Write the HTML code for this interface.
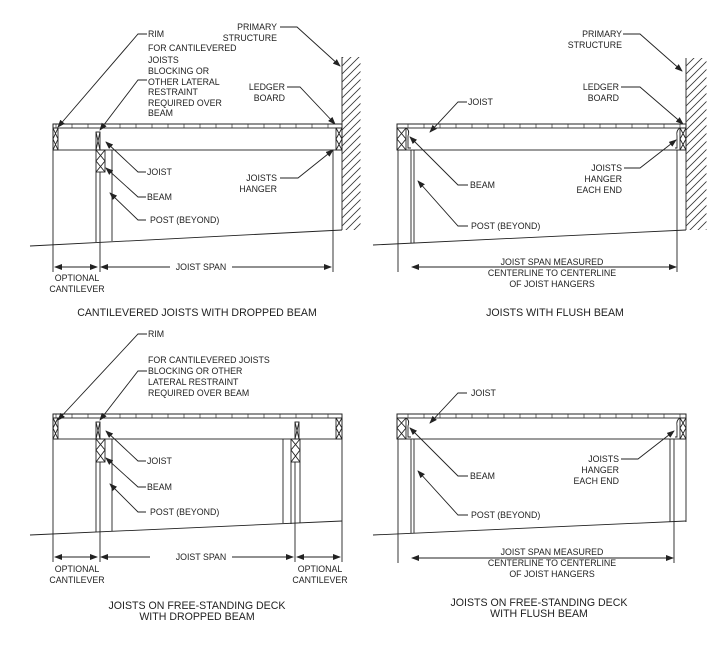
<!DOCTYPE html>
<html><head><meta charset="utf-8"><style>
html,body{margin:0;padding:0;background:#fff}
svg{display:block}
text{font-family:"Liberation Sans",Arial,sans-serif;font-size:8.8px;fill:#222}
.t{font-size:10.6px}
</style></head><body>
<svg width="707" height="645" viewBox="0 0 707 645" xmlns="http://www.w3.org/2000/svg">
<defs>
<pattern id="tick" x="0" y="0" width="16" height="4" patternUnits="userSpaceOnUse"><line x1="8" y1="0" x2="8" y2="4" stroke="#333" stroke-width="0.7"/></pattern>
<pattern id="hatch" width="8" height="8" patternUnits="userSpaceOnUse"><line x1="0" y1="8" x2="8" y2="0" stroke="#333" stroke-width="0.8"/><line x1="-2" y1="2" x2="2" y2="-2" stroke="#333" stroke-width="0.8"/><line x1="6" y1="10" x2="10" y2="6" stroke="#333" stroke-width="0.8"/></pattern>
<marker id="a" markerWidth="8" markerHeight="6" refX="7" refY="3" orient="auto" markerUnits="userSpaceOnUse"><path d="M0,0 L8,3 L0,6 z" fill="#222"/></marker>
</defs>
<g stroke="#222" stroke-width="0.9" fill="none">
<!-- PANEL 1 -->
<rect x="53" y="124" width="289" height="4" fill="url(#tick)"/>
<rect x="53" y="124" width="289" height="26"/>
<rect x="53" y="128" width="5" height="22"/><path d="M53,128 L58,139 L53,150 M58,128 L53,139 L58,150"/>
<rect x="96" y="132" width="4" height="18"/><path d="M96,132 L100,150 M100,132 L96,150"/>
<rect x="96" y="150" width="9" height="22"/><path d="M96,150 L105,161 L96,172 M105,150 L96,161 L105,172"/>
<rect x="336" y="128" width="6" height="22"/><path d="M336,128 L342,139 L336,150 M342,128 L336,139 L342,150"/>
<path d="M96,172 V242 M100,172 V272 M112,150 V241 M53,150 V272 M333,150 V272"/>
<path d="M30,246 L342,230"/>
<path d="M342,57 V230"/>
<rect x="342.5" y="57" width="18" height="173" fill="url(#hatch)" stroke="none"/>
<path d="M55,267 H97" marker-end="url(#a)"/><path d="M97,267 H55" marker-end="url(#a)"/>
<path d="M101,267 H170 M232,267 H331" /><path d="M150,267 H101" marker-end="url(#a)"/><path d="M300,267 H331" marker-end="url(#a)"/>
<path d="M147,34 H138 L58,127" marker-end="url(#a)"/>
<path d="M147,80 H138 L100,130" marker-end="url(#a)"/>
<path d="M280,27 H297 L340,66" marker-end="url(#a)"/>
<path d="M287,87 H300 L335,124" marker-end="url(#a)"/>
<path d="M280,178 H298 L333,150" marker-end="url(#a)"/>
<path d="M146,172 H138 L106,142" marker-end="url(#a)"/>
<path d="M146,197 H138 L106,168" marker-end="url(#a)"/>
<path d="M146,220 H138 L110,193" marker-end="url(#a)"/>

<!-- PANEL 2 -->
<rect x="397" y="124" width="289" height="4" fill="url(#tick)"/>
<rect x="397" y="124" width="289" height="26"/>
<rect x="397" y="128" width="9" height="22"/><path d="M397,128 L406,139 L397,150 M406,128 L397,139 L406,150"/>
<path d="M406,128 Q410,130 408,136 L408,148 H411"/>
<rect x="680" y="128" width="6" height="22"/><path d="M680,128 L686,139 L680,150 M686,128 L680,139 L686,150"/>
<path d="M680,128 Q676,130 677,136 L677,148 H675"/>
<path d="M398,150 V272 M411,150 V243 M414,150 V243 M677,150 V272"/>
<path d="M373,245 L686,230"/>
<path d="M686,58 V230"/>
<rect x="686.5" y="58" width="20" height="172" fill="url(#hatch)" stroke="none"/>
<path d="M530,267 H412" marker-end="url(#a)"/><path d="M520,267 H676" marker-end="url(#a)"/>
<path d="M467,102 H458 L430,132" marker-end="url(#a)"/>
<path d="M468,185 H458 L410,137" marker-end="url(#a)"/>
<path d="M468,226 H458 L418,181" marker-end="url(#a)"/>
<path d="M623,34 H640 L682,71" marker-end="url(#a)"/>
<path d="M621,87 H640 L683,124" marker-end="url(#a)"/>
<path d="M624,168 H640 L676,140" marker-end="url(#a)"/>

<!-- PANEL 3 -->
<rect x="53" y="414" width="289" height="4" fill="url(#tick)"/>
<rect x="53" y="414" width="289" height="25"/>
<rect x="53" y="418" width="5" height="21"/><path d="M53,418 L58,428 L53,439 M58,418 L53,428 L58,439"/>
<rect x="336" y="418" width="6" height="21"/><path d="M336,418 L342,428 L336,439 M342,418 L336,428 L342,439"/>
<rect x="96" y="422" width="4" height="17"/><path d="M96,422 L100,439 M100,422 L96,439"/>
<rect x="96" y="439" width="9" height="23"/><path d="M96,439 L105,450 L96,462 M105,439 L96,450 L105,462"/>
<rect x="295" y="422" width="4" height="17"/><path d="M295,422 L299,439 M299,422 L295,439"/>
<rect x="291" y="439" width="9" height="23"/><path d="M291,439 L300,450 L291,462 M300,439 L291,450 L300,462"/>
<path d="M96,462 V532 M100,462 V562 M112,439 V531 M283,439 V523 M291,462 V524 M295,462 V562 M300,462 V523 M53,439 V562 M342,439 V562"/>
<path d="M30,535 L342,521"/>
<path d="M55,557 H97" marker-end="url(#a)"/><path d="M97,557 H55" marker-end="url(#a)"/>
<path d="M150,557 H101" marker-end="url(#a)"/><path d="M232,557 H293" marker-end="url(#a)"/>
<path d="M298,557 H340" marker-end="url(#a)"/><path d="M340,557 H297" marker-end="url(#a)"/>
<path d="M147,334 H138 L58,420" marker-end="url(#a)"/>
<path d="M147,371 H138 L100,420" marker-end="url(#a)"/>
<path d="M146,461 H138 L106,431" marker-end="url(#a)"/>
<path d="M146,487 H138 L106,458" marker-end="url(#a)"/>
<path d="M146,512 H138 L110,484" marker-end="url(#a)"/>

<!-- PANEL 4 -->
<rect x="397" y="414" width="289" height="4" fill="url(#tick)"/>
<rect x="397" y="414" width="289" height="25"/>
<rect x="397" y="418" width="9" height="21"/><path d="M397,418 L406,428 L397,439 M406,418 L397,428 L406,439"/>
<path d="M406,418 Q410,420 408,426 L408,437 H411"/>
<rect x="680" y="418" width="6" height="21"/><path d="M680,418 L686,428 L680,439 M686,418 L680,428 L686,439"/>
<path d="M680,418 Q676,420 677,426 L677,437 H675"/>
<path d="M398,439 V563 M411,439 V533 M414,439 V533 M670,439 V522 M674,439 V563 M686,439 V522"/>
<path d="M373,535 L686,521"/>
<path d="M530,558 H412" marker-end="url(#a)"/><path d="M520,558 H673" marker-end="url(#a)"/>
<path d="M467,393 H458 L430,423" marker-end="url(#a)"/>
<path d="M468,476 H458 L410,428" marker-end="url(#a)"/>
<path d="M468,515 H458 L418,471" marker-end="url(#a)"/>
<path d="M621,459 H638 L674,431" marker-end="url(#a)"/>
</g>

<g>
<text x="148" y="37">RIM</text>
<text x="148" y="51">FOR CANTILEVERED</text>
<text x="148" y="63">JOISTS</text>
<text x="148" y="74">BLOCKING OR</text>
<text x="148" y="85">OTHER LATERAL</text>
<text x="148" y="95">RESTRAINT</text>
<text x="148" y="106">REQUIRED OVER</text>
<text x="148" y="116">BEAM</text>
<text x="277" y="30" text-anchor="end">PRIMARY</text>
<text x="277" y="41" text-anchor="end">STRUCTURE</text>
<text x="285" y="90" text-anchor="end">LEDGER</text>
<text x="285" y="101" text-anchor="end">BOARD</text>
<text x="277" y="181" text-anchor="end">JOISTS</text>
<text x="277" y="192" text-anchor="end">HANGER</text>
<text x="147" y="175">JOIST</text>
<text x="147" y="200">BEAM</text>
<text x="150" y="223">POST (BEYOND)</text>
<text x="201" y="270" text-anchor="middle">JOIST SPAN</text>
<text x="77" y="281" text-anchor="middle">OPTIONAL</text>
<text x="77" y="292" text-anchor="middle">CANTILEVER</text>
<text class="t" x="197" y="316" text-anchor="middle">CANTILEVERED JOISTS WITH DROPPED BEAM</text>
<text x="622" y="37" text-anchor="end">PRIMARY</text>
<text x="622" y="48" text-anchor="end">STRUCTURE</text>
<text x="619" y="90" text-anchor="end">LEDGER</text>
<text x="619" y="101" text-anchor="end">BOARD</text>
<text x="468" y="105">JOIST</text>
<text x="470" y="188">BEAM</text>
<text x="471" y="229">POST (BEYOND)</text>
<text x="622" y="171" text-anchor="end">JOISTS</text>
<text x="622" y="182" text-anchor="end">HANGER</text>
<text x="622" y="193" text-anchor="end">EACH END</text>
<text x="552" y="265" text-anchor="middle">JOIST SPAN MEASURED</text>
<text x="552" y="276" text-anchor="middle">CENTERLINE TO CENTERLINE</text>
<text x="552" y="287" text-anchor="middle">OF JOIST HANGERS</text>
<text class="t" x="555" y="316" text-anchor="middle">JOISTS WITH FLUSH BEAM</text>
<text x="148" y="337">RIM</text>
<text x="148" y="363">FOR CANTILEVERED JOISTS</text>
<text x="148" y="374">BLOCKING OR OTHER</text>
<text x="148" y="385">LATERAL RESTRAINT</text>
<text x="148" y="396">REQUIRED OVER BEAM</text>
<text x="147" y="464">JOIST</text>
<text x="147" y="490">BEAM</text>
<text x="150" y="515">POST (BEYOND)</text>
<text x="201" y="560" text-anchor="middle">JOIST SPAN</text>
<text x="77" y="572" text-anchor="middle">OPTIONAL</text>
<text x="77" y="583" text-anchor="middle">CANTILEVER</text>
<text x="320" y="572" text-anchor="middle">OPTIONAL</text>
<text x="320" y="583" text-anchor="middle">CANTILEVER</text>
<text class="t" x="197" y="609" text-anchor="middle">JOISTS ON FREE-STANDING DECK</text>
<text class="t" x="197" y="620" text-anchor="middle">WITH DROPPED BEAM</text>
<text x="471" y="396">JOIST</text>
<text x="470" y="479">BEAM</text>
<text x="471" y="518">POST (BEYOND)</text>
<text x="619" y="462" text-anchor="end">JOISTS</text>
<text x="619" y="473" text-anchor="end">HANGER</text>
<text x="619" y="484" text-anchor="end">EACH END</text>
<text x="552" y="555" text-anchor="middle">JOIST SPAN MEASURED</text>
<text x="552" y="566" text-anchor="middle">CENTERLINE TO CENTERLINE</text>
<text x="552" y="577" text-anchor="middle">OF JOIST HANGERS</text>
<text class="t" x="539" y="606" text-anchor="middle">JOISTS ON FREE-STANDING DECK</text>
<text class="t" x="539" y="617" text-anchor="middle">WITH FLUSH BEAM</text>
</g>
</svg>
</body></html>
